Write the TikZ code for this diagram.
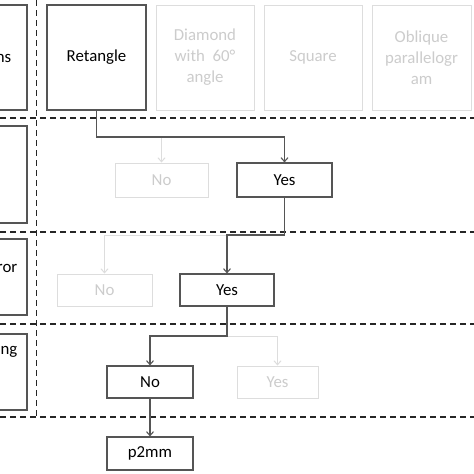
\documentclass[tikz,border=0pt]{standalone}
\usepackage{fontspec}
\setmainfont{Carlito}
\usetikzlibrary{arrows.meta}
\definecolor{dk}{HTML}{555555}
\definecolor{lt}{HTML}{DDDDDD}
\definecolor{lttext}{HTML}{CCCCCC}
\tikzset{
  dbox/.style={draw=dk, line width=1.1pt, fill=white, inner sep=0pt, align=center, text=black, font=\fontsize{16.8}{21}\selectfont},
  lbox/.style={draw=lt, line width=1pt, fill=white, inner sep=0pt, align=center, text=lttext, font=\fontsize{16.8}{21}\selectfont},
  conn/.style={draw=dk, line width=1.1pt, -{Straight Barb[length=4pt,width=7pt]}},
  gconn/.style={draw=lt, line width=1pt, -{Straight Barb[length=4pt,width=7pt]}},
  sep/.style={draw=black!85, line width=1.6pt, dash pattern=on 6pt off 4pt},
  lbl/.style={anchor=east, inner sep=0pt, font=\fontsize{16.8}{21}\selectfont}
}
\begin{document}
\begin{tikzpicture}[x=1pt,y=-1pt]
\useasboundingbox (0,0) rectangle (474,474);
\clip (0,0) rectangle (474,474);
\fill[white] (0,0) rectangle (474,474);
% left boxes (cut off)
\draw[dk, line width=1.1pt] (-20,5) rectangle (27,110);
\draw[dk, line width=1.1pt] (-20,126) rectangle (27,223);
\draw[dk, line width=1.1pt] (-20,239) rectangle (27,315);
\draw[dk, line width=1.1pt] (-20,334) rectangle (27,410);
\node[lbl] (t1) at (11.5,58) {ns};
\node[lbl] (t3) at (17.5,268) {ror};
\node[lbl] (t4) at (17.5,352) {ng};
% separators
\draw[sep] (0,118) -- (474,118);
\draw[sep] (0,232) -- (474,232);
\draw[sep] (0,324) -- (474,324);
\draw[sep] (0,417) -- (474,417);
\draw[sep] (36.5,0) -- (36.5,418);
% top row
\node[dbox, minimum width=99pt, minimum height=105pt] (ret) at (96.5,57.5) {Retangle};
\node[lbox, minimum width=98pt, minimum height=105pt] (dia) at (205,57.5) {Diamond\\with\ \ 60°\\angle};
\node[lbox, minimum width=98pt, minimum height=105pt] (sq) at (313,57.5) {Square};
\node[lbox, minimum width=99pt, minimum height=105pt] (obl) at (421.5,57.5) {Oblique\\parallelogr\\am};
% row 2
\node[lbox, minimum width=93pt, minimum height=34pt] (no1) at (161.5,180) {No};
\node[dbox, minimum width=95pt, minimum height=34pt] (yes1) at (284.5,180) {Yes};
% row 3
\node[lbox, minimum width=95pt, minimum height=32pt] (no2) at (104.5,290) {No};
\node[dbox, minimum width=94pt, minimum height=32pt] (yes2) at (227,290) {Yes};
% row 4
\node[dbox, minimum width=86pt, minimum height=32pt] (no3) at (150,382) {No};
\node[lbox, minimum width=81pt, minimum height=32pt] (yes3) at (277.5,382) {Yes};
% row 5
\node[dbox, minimum width=86pt, minimum height=33pt] (p2) at (150,453.5) {p2mm};
% junctions
\coordinate (j1) at (96.5,137);
\coordinate (j2) at (284.5,235);
\coordinate (j3) at (227,336);
% connectors
\draw[gconn] (no1.north |- j1) -- (no1.north);
\draw[conn] (ret.south) -- (j1) -| (yes1.north);
\draw[gconn] (yes2.north |- j2) -| (no2.north);
\draw[conn] (yes1.south) -- (j2) -| (yes2.north);
\draw[gconn] (j3) -| (yes3.north);
\draw[conn] (yes2.south) -- (j3) -| (no3.north);
\draw[conn] (no3.south) -- (p2.north);
\end{tikzpicture}
\end{document}
